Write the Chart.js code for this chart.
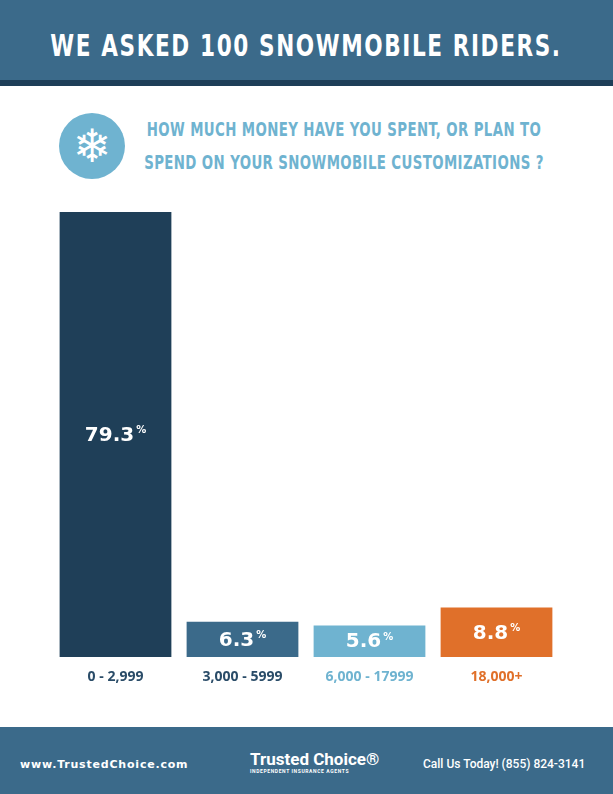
<!DOCTYPE html>
<html>
<head>
<meta charset="utf-8">
<script src="https://cdn.jsdelivr.net/npm/chart.js@4"></script>
<style>
  body { margin: 0; width: 613px; height: 794px; position: relative; background: #fff; overflow: hidden; font-family: 'DejaVu Sans', sans-serif; }
  .header { position: absolute; left: 0; top: 0; width: 613px; height: 80px; background: #3b6a8a; border-bottom: 6px solid #1e3e58; }
  .c { position: absolute; white-space: nowrap; transform-origin: 0 0; }
  .header .c { left: 306px; top: 28px; color: #fff; font: bold 30px 'DejaVu Sans Condensed', sans-serif; letter-spacing: 2px; transform: scaleX(0.8) translateX(-50%); }
  .icon { position: absolute; left: 59px; top: 113px; width: 66px; height: 66px; border-radius: 50%; background: #6fb3d0; color: #fff; text-align: center; font: 46px 'DejaVu Sans'; line-height: 66px; }
  .q { left: 344px; color: #6fb3d0; font: bold 19px 'DejaVu Sans Condensed', sans-serif; letter-spacing: 0.5px; transform: scaleX(0.78) translateX(-50%); }
  #wrap { position: absolute; left: 0; top: 200px; width: 613px; height: 500px; }
  .footer { position: absolute; left: 0; top: 727px; width: 613px; height: 67px; background: #3b6a8a; color: #fff; }
  .footer .l { position: absolute; left: 20px; top: 31px; font: bold 11px 'DejaVu Sans'; letter-spacing: 0.8px; }
  .footer .r { position: absolute; left: 423px; top: 30px; font: 12px 'Roboto', sans-serif; font-weight: 500; }
  .footer .logo { position: absolute; left: 250px; top: 22px; font: bold 17px 'Liberation Sans Narrow', 'Roboto'; }
  .footer .logo small { display: block; font-size: 5px; letter-spacing: 0.6px; margin-top: -1px; }
</style>
</head>
<body>
<div class="header"><div class="c">WE ASKED 100 SNOWMOBILE RIDERS.</div></div>
<div class="icon">❄</div>
<div class="c q" style="top:118px">HOW MUCH MONEY HAVE YOU SPENT, OR PLAN TO</div>
<div class="c q" style="top:151px">SPEND ON YOUR SNOWMOBILE CUSTOMIZATIONS ?</div>
<div id="wrap"><canvas id="c"></canvas></div>
<div class="footer">
  <div class="l">www.TrustedChoice.com</div>
  <div class="logo">Trusted Choice®<small>INDEPENDENT INSURANCE AGENTS</small></div>
  <div class="r">Call Us Today! (855) 824-3141</div>
</div>
<script>
const categories = ['0 - 2,999', '3,000 - 5999', '6,000 - 17999', '18,000+'];
const values = [79.3, 6.3, 5.6, 8.8];
const barColors = ['#1f3f58', '#3b6a8a', '#6fb3d0', '#e0702a'];
const labelColors = ['#2a4c68', '#2a4c68', '#6fb3d0', '#e0702a'];

const labelPlugin = {
  id: 'labels',
  afterDatasetsDraw(chart) {
    const ctx = chart.ctx;
    const meta = chart.getDatasetMeta(0);
    ctx.save();
    meta.data.forEach((bar, i) => {
      const num = values[i].toFixed(1);
      ctx.font = 'bold 20px "DejaVu Sans"';
      const w1 = ctx.measureText(num).width;
      ctx.font = 'bold 10px "DejaVu Sans"';
      const w2 = ctx.measureText('%').width;
      const x0 = bar.x - (w1 + w2 + 2) / 2;
      const yMid = (bar.y + bar.base) / 2 + 1;
      ctx.fillStyle = '#fff';
      ctx.textBaseline = 'middle';
      ctx.textAlign = 'left';
      ctx.font = 'bold 20px "DejaVu Sans"';
      ctx.fillText(num, x0, yMid);
      ctx.font = 'bold 10px "DejaVu Sans"';
      ctx.fillText('%', x0 + w1 + 2, yMid - 5);
      ctx.font = 'bold 14px "Open Sans"';
      ctx.textAlign = 'center';
      ctx.fillStyle = labelColors[i];
      ctx.fillText(categories[i], bar.x, bar.base + 20);
    });
    ctx.restore();
  }
};

new Chart(document.getElementById('c'), {
  type: 'bar',
  data: {
    labels: categories,
    datasets: [{ data: values, backgroundColor: barColors, borderWidth: 0, barPercentage: 0.88, categoryPercentage: 1 }]
  },
  options: {
    responsive: true,
    maintainAspectRatio: false,
    animation: false,
    layout: { padding: { top: 12, bottom: 43, left: 52, right: 53 } },
    plugins: { legend: { display: false }, tooltip: { enabled: false } },
    scales: {
      x: { display: false },
      y: { display: false, min: 0, max: 79.3 }
    }
  },
  plugins: [labelPlugin]
});
</script>
</body>
</html>
